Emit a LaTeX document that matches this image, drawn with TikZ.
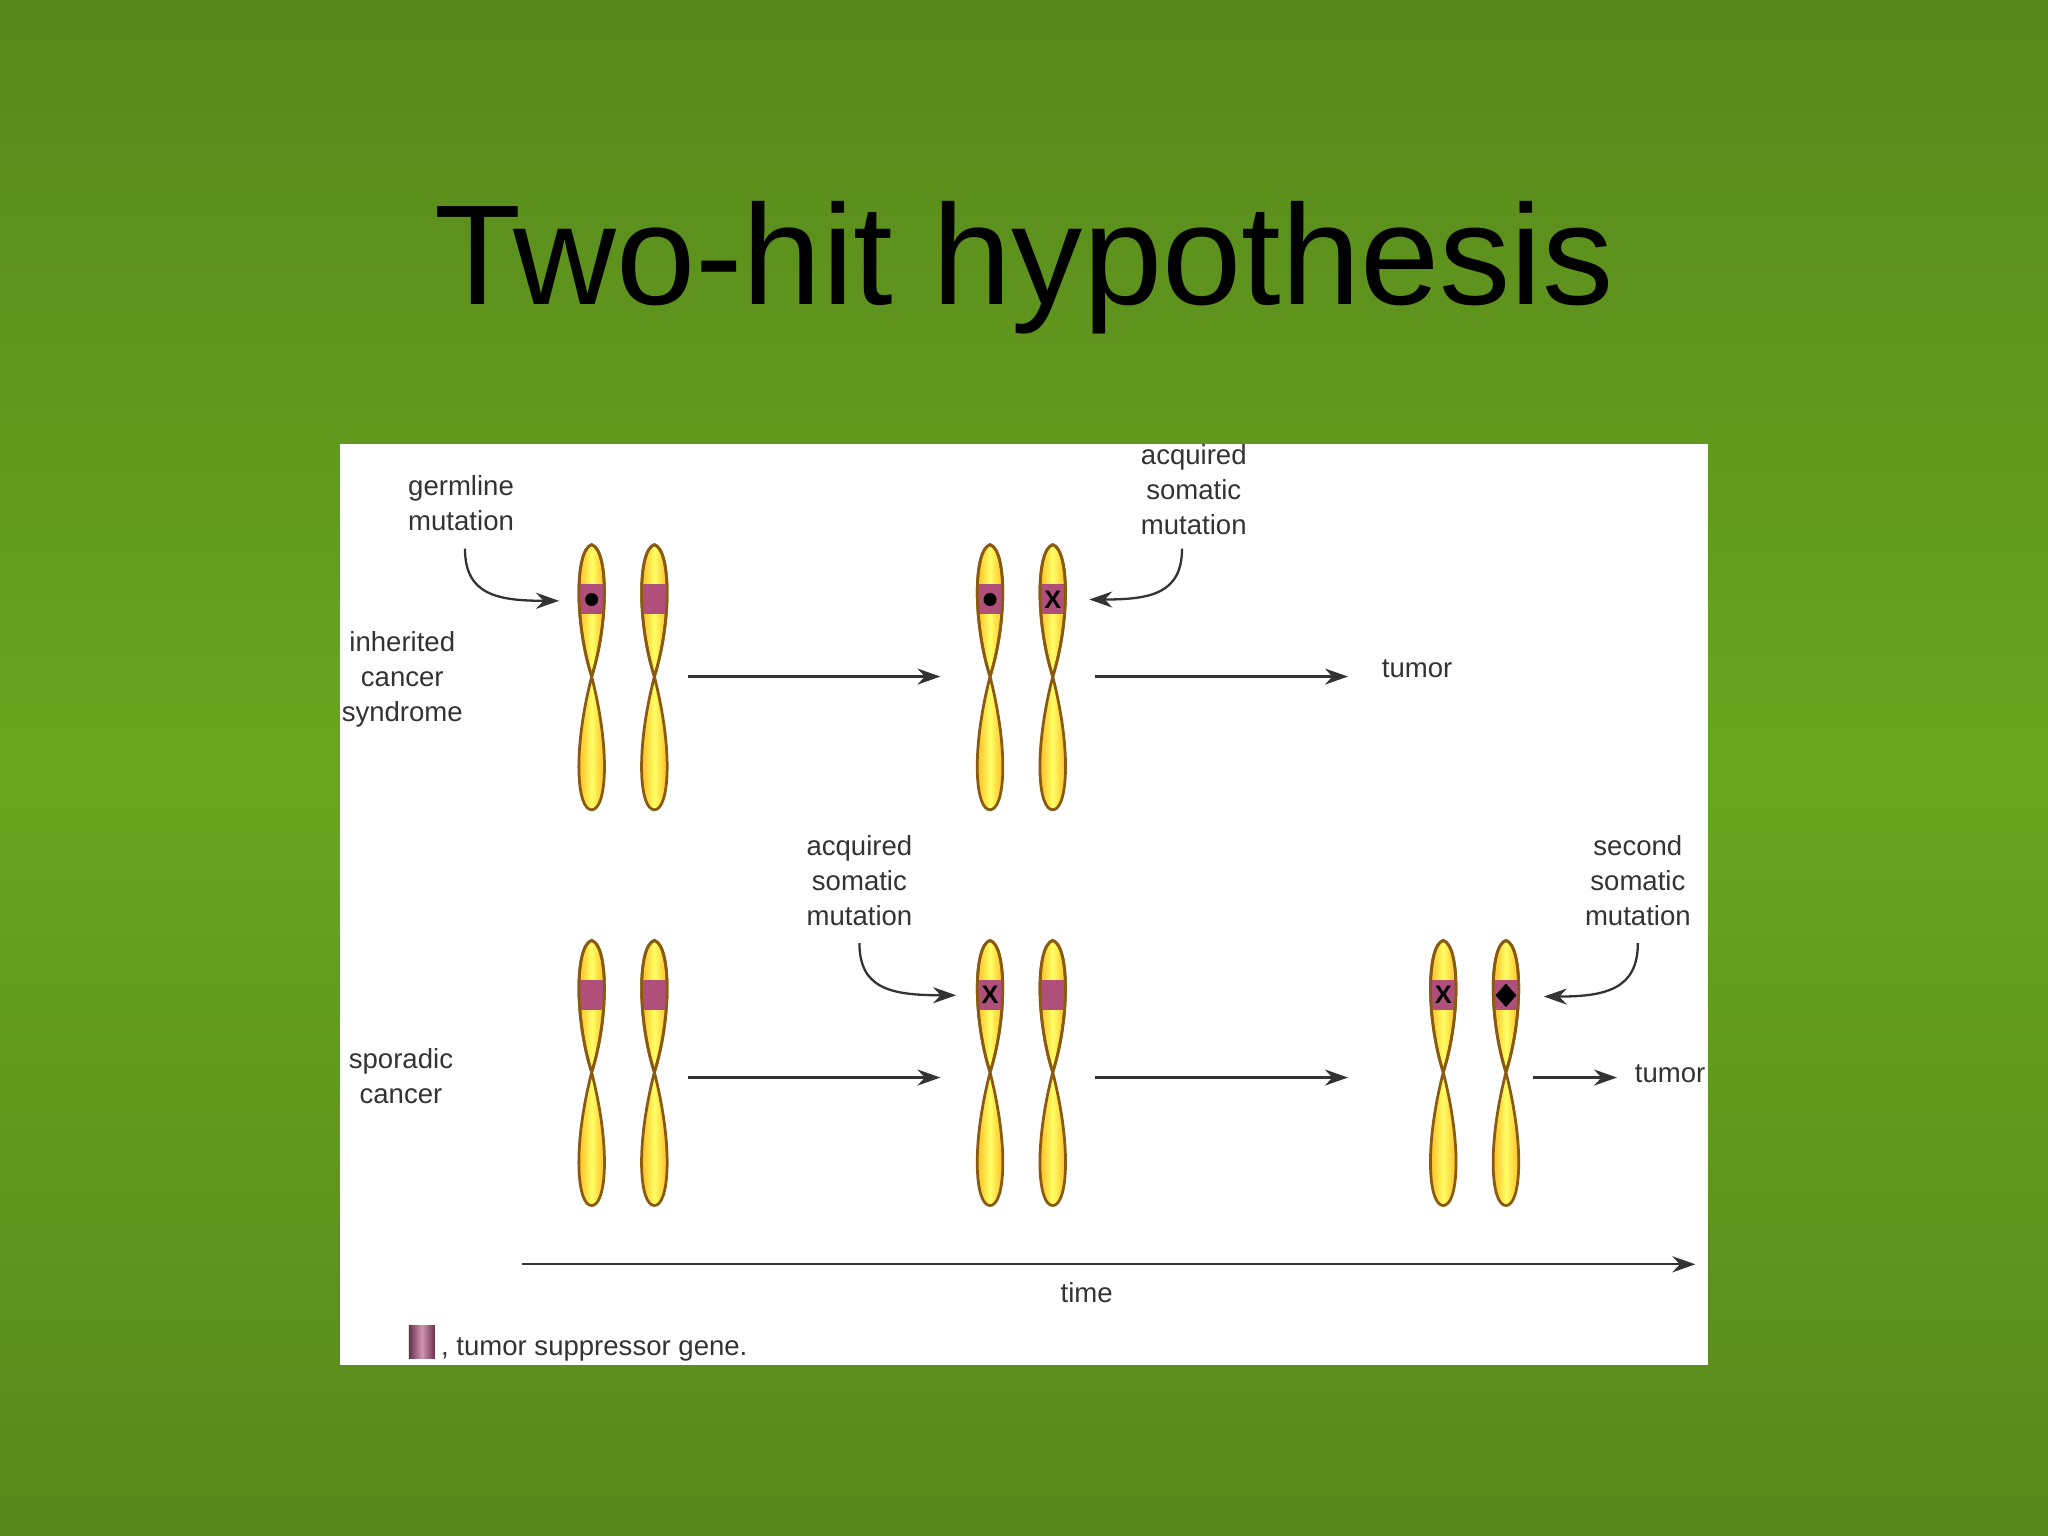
\documentclass[tikz,border=0pt]{standalone}
\usepackage{fontspec}
\setmainfont{Liberation Sans}
\usetikzlibrary{arrows.meta}
\definecolor{band}{HTML}{B0507A}
\definecolor{cedge}{HTML}{8A5A10}
\definecolor{txt}{HTML}{333333}
\tikzset{
 lbl/.style={font=\fontsize{6}{7.6}\selectfont, text=txt, align=center, inner sep=0pt},
 arr/.style={-{Stealth[length=5pt,width=3.5pt]}, line width=0.5pt, draw=txt},
 mk/.style={font=\fontsize{5.5}{6}\selectfont\bfseries, inner sep=0pt},
 pics/chrom/.style={code={
  \path[draw=cedge, line width=0.6pt, left color=orange!80!yellow, right color=orange!80!yellow, middle color=yellow!60]
   (0,101) .. controls (-13,60) and (-13,4) .. (0,0) .. controls (13,4) and (13,60) .. (0,101)
   .. controls (-15,160) and (-11,203) .. (0,203) .. controls (11,203) and (15,160) .. (0,101);
  \begin{scope}
   \clip (0,101) .. controls (-13,60) and (-13,4) .. (0,0) .. controls (13,4) and (13,60) .. (0,101);
   \fill[band] (-15,30) rectangle (15,53);
  \end{scope}
  \draw[cedge, line width=0.6pt] (0,101) .. controls (-13,60) and (-13,4) .. (0,0) .. controls (13,4) and (13,60) .. (0,101);
 }}
}
\begin{document}
\begin{tikzpicture}[x=0.01cm,y=-0.01cm]
\useasboundingbox (0,0) rectangle (1568,1176);
\shade[top color={rgb,255:red,88;green,136;blue,28}, bottom color={rgb,255:red,104;green,166;blue,30}] (0,0) rectangle (1568,588);
\shade[top color={rgb,255:red,104;green,166;blue,30}, bottom color={rgb,255:red,88;green,136;blue,28}] (0,588) rectangle (1568,1176);
\node (title) at (784,205) {\fontsize{31}{36}\selectfont Two-hit hypothesis};
\fill[white] (260,340) rectangle (1308,1045);
\foreach \x in {453,501,758,806} \pic at (\x,417) {chrom};
\foreach \x in {453,501,758,806,1105,1153} \pic at (\x,720) {chrom};
\fill[black] (453,459) circle (5);
\fill[black] (758,459) circle (5);
\node[mk] (x1) at (806,459) {X};
\node[mk] (x2) at (758,762) {X};
\node[mk] (x3) at (1105,762) {X};
\fill[black] (1153,753) -- (1161,762) -- (1153,771) -- (1145,762) -- cycle;
% row arrows
\coordinate (a1) at (527,518); \coordinate (a2) at (720,518);
\coordinate (a3) at (838,518); \coordinate (a4) at (1032,518);
\coordinate (b1) at (527,825); \coordinate (b2) at (720,825);
\coordinate (b3) at (838,825); \coordinate (b4) at (1032,825);
\coordinate (b5) at (1174,825); \coordinate (b6) at (1238,825);
\coordinate (t1) at (400,968); \coordinate (t2) at (1298,968);
\draw[arr] (a1) -- (a2); \draw[arr] (a3) -- (a4);
\draw[arr] (b1) -- (b2); \draw[arr] (b3) -- (b4); \draw[arr] (b5) -- (b6);
\draw[arr] (t1) -- (t2);
% curved arrows
\draw[arr] (356,420) .. controls (356,455) and (380,460) .. (428,460);
\draw[arr] (905,420) .. controls (905,455) and (880,459) .. (834,459);
\draw[arr] (658,722) .. controls (658,757) and (682,762) .. (732,762);
\draw[arr] (1254,722) .. controls (1254,757) and (1230,763) .. (1182,763);
% labels
\node[lbl] (l1) at (353,385) {germline\\mutation};
\node[lbl] (l2) at (914,375) {acquired\\somatic\\mutation};
\node[lbl] (l3) at (308,520) {inherited\\cancer\\syndrome};
\node[lbl] (l4) at (1085,512) {tumor};
\node[lbl] (l5) at (658,674) {acquired\\somatic\\mutation};
\node[lbl] (l6) at (1254,674) {second\\somatic\\mutation};
\node[lbl] (l7) at (307,824) {sporadic\\cancer};
\begin{scope}
\clip (260,340) rectangle (1308,1045);
\node[lbl, anchor=west] (l8) at (1251,822) {tumor};
\end{scope}
\node[lbl] (l9) at (832,990) {time};
\shade[left color=band!60!black, right color=band!60!black, middle color=band!60] (313,1015) rectangle (333,1040);
\node[lbl, anchor=west] (l10) at (337,1033) {, tumor suppressor gene.};
\end{tikzpicture}
\end{document}
